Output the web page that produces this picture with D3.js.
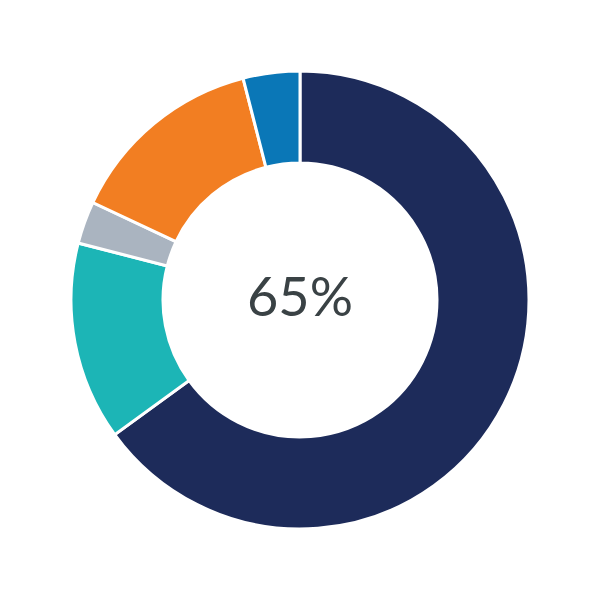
<!DOCTYPE html>
<html>
<head>
<meta charset="utf-8">
<script src="https://cdn.jsdelivr.net/npm/d3@7"></script>
<style>
  body { margin: 0; background: #fff; }
  svg { display: block; }
</style>
</head>
<body>
<script>
// slice data, clockwise from 12 o'clock
var labels = ['A', 'B', 'C', 'D', 'E'];
var values = [65, 14, 3, 14, 4];
var colors = ['#1d2b5a', '#1cb5b6', '#aab4c0', '#f27e22', '#0a77b7'];
var centerLabel = '65%';

var width = 600, height = 600;
var cx = 300, cy = 300;
var outerR = 229, innerR = 137;

var svg = d3.select('body').append('svg')
  .attr('width', width)
  .attr('height', height);

var pie = d3.pie()
  .sort(null)
  .value(function(d) { return d; });

var arc = d3.arc()
  .innerRadius(innerR)
  .outerRadius(outerR);

var g = svg.append('g')
  .attr('transform', 'translate(' + cx + ',' + cy + ')');

g.selectAll('path')
  .data(pie(values))
  .enter()
  .append('path')
  .attr('d', arc)
  .attr('fill', function(d, i) { return colors[i]; })
  .attr('stroke', '#fff')
  .attr('stroke-width', 3);

g.append('text')
  .text(centerLabel)
  .attr('text-anchor', 'middle')
  .attr('y', -3)
  .attr('dy', '0.35em')
  .style('font-family', 'Lato, sans-serif')
  .style('font-size', '54px')
  .style('fill', '#3a4245');
</script>
</body>
</html>
